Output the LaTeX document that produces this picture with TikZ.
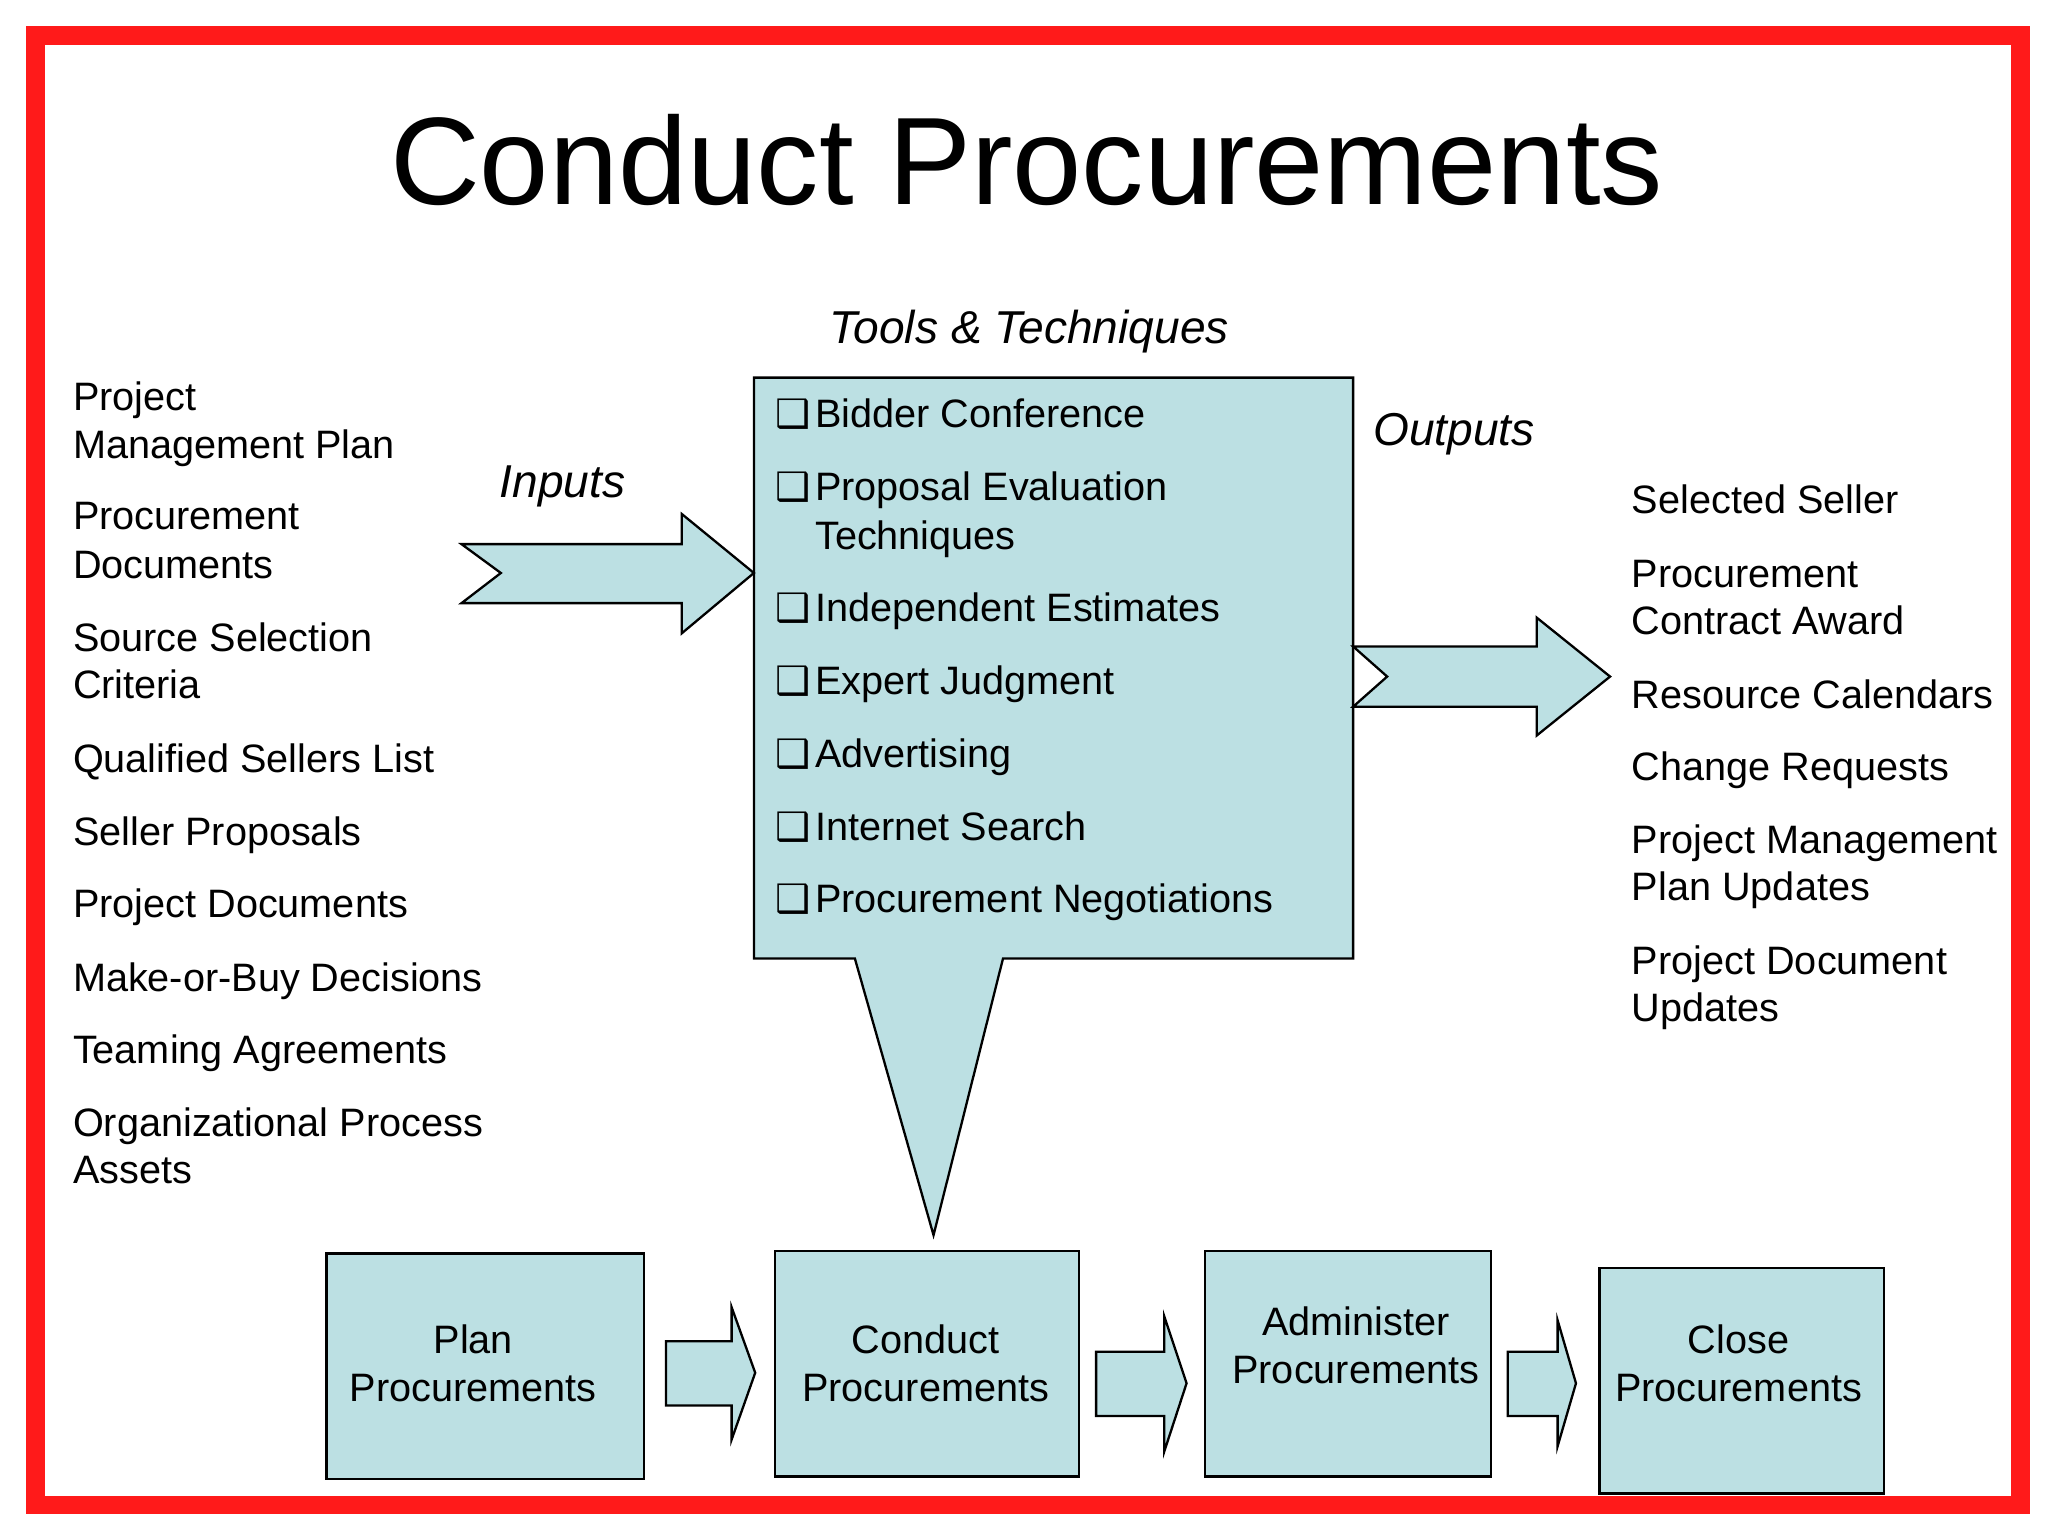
\documentclass[tikz,border=0pt]{standalone}
\usepackage{fontspec}
\setmainfont{Liberation Sans}
\newfontfamily\djv{DejaVu Sans}
\definecolor{lb}{HTML}{BCE0E3}
\definecolor{rb}{HTML}{FF1A1A}
\begin{document}
\begin{tikzpicture}[x=0.01cm,y=-0.01cm,
  txt/.style={font=\fontsize{8.6}{10.5}\selectfont,anchor=base west,inner sep=0},
  ctxt/.style={font=\fontsize{8.6}{10.5}\selectfont,align=center,inner sep=0},
  itxt/.style={font=\fontsize{10}{12}\selectfont\itshape,inner sep=0},
  blk/.style={draw=black,fill=lb,line width=0.5pt},
  chk/.style={font=\djv\fontsize{8.5}{9}\selectfont,anchor=base west,inner sep=0}]
\useasboundingbox (0,0) rectangle (1562,1171.5);
\fill[white] (0,0) rectangle (1562,1171.5);
\draw[rb,line width=14*0.2845pt] (27,27) rectangle (1541,1148);
\node[font=\fontsize{27}{32}\selectfont,inner sep=0] (title) at (783,122) {Conduct Procurements};
% main callout box
\draw[blk] (575,288)--(1032,288)--(1032,731)--(765,731)--(712,942)--(652,731)--(575,731)--cycle;
% arrows
\draw[blk] (352,415)--(382,437)--(352,460)--(520,460)--(520,483)--(575,437)--(520,392)--(520,415)--cycle;
\draw[blk] (1032,493)--(1058,516)--(1032,539)--(1172,539)--(1172,561)--(1228,516)--(1172,471)--(1172,493)--cycle;
\draw[blk] (508,1023)--(558,1023)--(558,997)--(576,1047)--(558,1098)--(558,1072)--(508,1072)--cycle;
\draw[blk] (836,1031)--(888,1031)--(888,1004)--(905,1055)--(888,1107)--(888,1080)--(836,1080)--cycle;
\draw[blk] (1150,1031)--(1188,1031)--(1188,1007)--(1202,1055)--(1188,1103)--(1188,1080)--(1150,1080)--cycle;
% bottom boxes
\draw[blk] (249,956) rectangle (491,1128);
\draw[blk] (591,954) rectangle (823,1126);
\draw[blk] (919,954) rectangle (1137,1126);
\draw[blk] (1220,967) rectangle (1437,1139);
\node[ctxt] (plan) at (361,1040) {Plan\\Procurements};
\node[ctxt] (cond) at (706,1040) {Conduct\\Procurements};
\node[ctxt] (adm) at (1034,1026) {Administer\\Procurements};
\node[ctxt] (close) at (1326,1040) {Close\\Procurements};
% headings
\node[itxt] (tt) at (785,253) {Tools \& Techniques};
\node[itxt] (inp) at (429,371) {Inputs};
\node[itxt] (outp) at (1109,331) {Outputs};
% inputs
\foreach \y/\t [count=\k] in {313/Project,350/Management Plan,404/Procurement,441/Documents,497/Source Selection,533/Criteria,589/Qualified Sellers List,645/Seller Proposals,700/Project Documents,756/Make-or-Buy Decisions,811/Teaming Agreements,867/Organizational Process,903/Assets}
  \node[txt] (i\k) at (55,\y) {\t};
% tools
\foreach \y/\t [count=\k] in {326/Bidder Conference,382/Proposal Evaluation,474/Independent Estimates,530/Expert Judgment,585/Advertising,641/Internet Search,696/Procurement Negotiations}{
  \node[chk] (c\k) at (591,\y) {❑};
  \node[txt] (t\k) at (621,\y) {\t};
}
\node[txt] (t8) at (621,419) {Techniques};
% outputs
\foreach \y/\t [count=\k] in {392/Selected Seller,448/Procurement,484/Contract Award,540/Resource Calendars,595/Change Requests,651/Project Management,687/Plan Updates,743/Project Document,779/Updates}
  \node[txt] (o\k) at (1244,\y) {\t};
\end{tikzpicture}
\end{document}
